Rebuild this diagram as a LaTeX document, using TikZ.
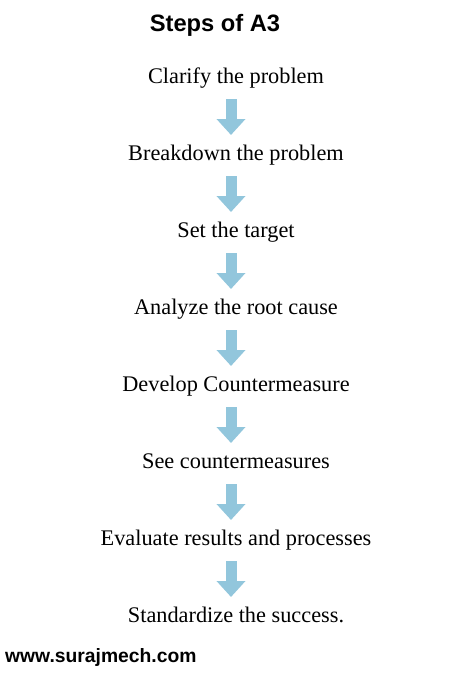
\documentclass[tikz,border=0pt]{standalone}
\usepackage{fontspec}
\setmainfont{Liberation Serif}
\newfontfamily\headfont{Liberation Sans}
\usetikzlibrary{arrows.meta}
\definecolor{flowblue}{RGB}{146,198,220}

\begin{document}
\begin{tikzpicture}[
        step_text/.style={font=\fontsize{22.3}{26}\selectfont, inner sep=0pt, anchor=base},
        flow_arrow/.style={
            draw=flowblue,
            line width=11pt,
            -{Triangle[width=28pt, length=16pt]},
            shorten <=16pt,
            shorten >=25pt
        }
    ]
        \useasboundingbox (0pt, 0pt) rectangle (472pt, -673pt);
        \node (title) at (215pt, -31pt) [anchor=base, inner sep=0pt, font=\headfont\bfseries\fontsize{23.7}{28}\selectfont] {Steps of A3};
        \node (clarify) at (236pt, -83pt) [step_text] {Clarify the problem};
        \path (clarify.base) + (0, -77pt) node[step_text] (breakdown) {Breakdown the problem};
        \path (breakdown.base) + (0, -77pt) node[step_text] (target) {Set the target};
        \path (target.base) + (0, -77pt) node[step_text] (rootcause) {Analyze the root cause};
        \path (rootcause.base) + (0, -77pt) node[step_text] (counter) {Develop Countermeasure};
        \path (counter.base) + (0, -77pt) node[step_text] (see) {See countermeasures};
        \path (see.base) + (0, -77pt) node[step_text] (evaluate) {Evaluate results and processes};
        \path (evaluate.base) + (0, -77pt) node[step_text] (standardize) {Standardize the success.};
        \node (website) at (5pt, -662pt) [anchor=base west, inner sep=0pt, font=\headfont\bfseries\fontsize{19.3}{23}\selectfont] {www.surajmech.com};
        % block arrows between the steps
        \foreach \from/\to in {clarify/breakdown, breakdown/target, target/rootcause, rootcause/counter, counter/see, see/evaluate, evaluate/standardize}
            \draw[flow_arrow] ([xshift=-5pt]\from.base) -- ([xshift=-5pt]\to.base);
    \end{tikzpicture}
\end{document}
